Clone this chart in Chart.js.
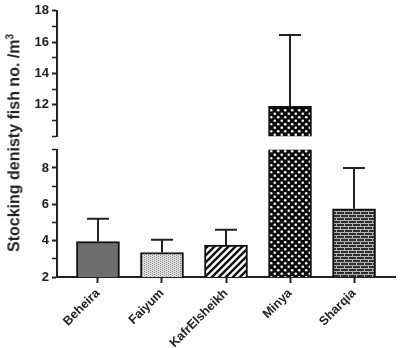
<!DOCTYPE html>
<html>
<head>
<meta charset="utf-8">
<script src="https://cdn.jsdelivr.net/npm/chart.js@4.4.1/dist/chart.umd.min.js"></script>
<style>
  html, body { margin: 0; padding: 0; background: #fff; }
  #wrap { position: relative; width: 400px; height: 348px; }
  #topBox { position: absolute; left: 0; top: 0; width: 400px; height: 147px; }
  #bottomBox { position: absolute; left: 0; top: 139px; width: 400px; height: 209px; }
  #ytitle {
    position: absolute; left: 14px; top: 143px;
    transform: translate(-50%, -50%) rotate(-90deg);
    white-space: nowrap; color: #222;
    font: bold 16px "Liberation Sans", Arial, sans-serif;
  }
</style>
</head>
<body>
<div id="wrap">
  <div id="bottomBox"><canvas id="lower"></canvas></div>
  <div id="topBox"><canvas id="upper"></canvas></div>
  <div id="ytitle">Stocking denisty fish no. /m<sup style="font-size:10px">3</sup></div>
</div>
<script>
// values (mean + upper SD)
const categories = ['Beheira', 'Faiyum', 'KafrElsheikh', 'Minya', 'Sharqia'];
const means = [3.95, 3.35, 3.75, 11.9, 5.75];
const errors = [1.25, 0.7, 0.85, 4.55, 2.25];
// broken y axis: two segments
const lowRange = [2, 9];
const highRange = [10, 18];
const lowTicks = [2, 4, 6, 8];
const highTicks = [12, 14, 16, 18];

const INK = '#222';
const FONT = '"Liberation Sans", Arial, sans-serif';

function tile(w, h, draw) {
  const c = document.createElement('canvas');
  c.width = w; c.height = h;
  draw(c.getContext('2d'), w, h);
  return c.getContext('2d').createPattern(c, 'repeat');
}

const fills = [
  '#6e6e6e',
  tile(4, 2, (g) => {
    g.fillStyle = '#dedede'; g.fillRect(0, 0, 4, 2);
    g.fillStyle = '#8a8a8a'; g.fillRect(0, 0, 1, 1); g.fillRect(2, 1, 1, 1);
  }),
  tile(7, 7, (g, w, h) => {
    g.fillStyle = '#fff'; g.fillRect(0, 0, w, h);
    g.strokeStyle = '#111'; g.lineWidth = 2.4;
    g.beginPath();
    g.moveTo(-1, h + 1); g.lineTo(w + 1, -1);
    g.moveTo(-1, 1); g.lineTo(1, -1);
    g.moveTo(w - 1, h + 1); g.lineTo(w + 1, h - 1);
    g.stroke();
  }),
  tile(7, 7, (g, w, h) => {
    g.fillStyle = '#0a0a0a'; g.fillRect(0, 0, w, h);
    g.fillStyle = '#fff';
    g.beginPath(); g.arc(1.75, 1.75, 1.3, 0, Math.PI * 2); g.fill();
    g.beginPath(); g.arc(5.25, 5.25, 1.3, 0, Math.PI * 2); g.fill();
  }),
  tile(8, 6, (g) => {
    g.fillStyle = '#2e2e2e'; g.fillRect(0, 0, 8, 6);
    g.fillStyle = '#b5b5b5';
    g.fillRect(0, 0, 8, 1); g.fillRect(0, 3, 8, 1);
    g.fillRect(0, 0, 1, 3); g.fillRect(4, 3, 1, 3);
  })
];

const errorBars = {
  id: 'errorBars',
  afterDatasetsDraw(chart) {
    const xs = chart.scales.x, ys = chart.scales.y, a = chart.chartArea, ctx = chart.ctx;
    ctx.save();
    ctx.beginPath();
    ctx.rect(a.left, a.top - 2, a.right - a.left, a.bottom - a.top + 2);
    ctx.clip();
    ctx.strokeStyle = INK; ctx.lineWidth = 2;
    categories.forEach((c, i) => {
      const x = xs.getPixelForValue(i);
      const y0 = ys.getPixelForValue(means[i]);
      const y1 = ys.getPixelForValue(means[i] + errors[i]);
      ctx.beginPath();
      ctx.moveTo(x, y0); ctx.lineTo(x, y1);
      ctx.moveTo(x - 11, y1); ctx.lineTo(x + 11, y1);
      ctx.stroke();
    });
    ctx.restore();
  }
};

function makeChart(id, range, labels, showX, padding) {
  const data = categories.map((c, i) => ({ x: i, y: means[i] > range[0] ? means[i] : null }));
  return new Chart(document.getElementById(id), {
    type: 'bar',
    data: {
      datasets: [{
        data: data,
        backgroundColor: fills,
        borderColor: '#111',
        borderWidth: 2,
        barThickness: 43
      }]
    },
    options: {
      responsive: true,
      maintainAspectRatio: false,
      animation: false,
      layout: { padding: padding },
      plugins: { legend: { display: false }, tooltip: { enabled: false } },
      scales: {
        x: {
          type: 'linear',
          display: showX,
          offset: false,
          min: -0.64,
          max: 4.64,
          afterBuildTicks: (s) => { s.ticks = categories.map((c, i) => ({ value: i })); },
          afterFit: (s) => { s.height = showX ? 71 : 0; },
          ticks: {
            autoSkip: false,
            maxRotation: 45,
            minRotation: 45,
            color: INK,
            padding: 3,
            font: { family: FONT, size: 12.5, weight: 'bold' },
            callback: (v) => categories[v]
          },
          grid: { drawOnChartArea: false, offset: false, tickLength: 6, tickColor: INK, tickWidth: 2 },
          border: { color: INK, width: 2 }
        },
        y: {
          min: range[0],
          max: range[1],
          afterFit: (s) => { s.width = 57; },
          ticks: {
            stepSize: 1,
            autoSkip: false,
            color: INK,
            padding: 3,
            font: { family: FONT, size: 13, weight: 'bold' },
            callback: (v) => labels.includes(v) ? v : ''
          },
          grid: {
            drawOnChartArea: false,
            tickLength: 5,
            tickColor: INK,
            tickWidth: (ctx) => labels.includes(ctx.tick.value) ? 2 : 1.5
          },
          border: { color: INK, width: 2 }
        }
      }
    },
    plugins: [errorBars]
  });
}

makeChart('upper', highRange, highTicks, false, { top: 6, right: 5, bottom: 6, left: 0 });
makeChart('lower', lowRange, lowTicks, true, { top: 8, right: 5, bottom: 0, left: 0 });
</script>
</body>
</html>
